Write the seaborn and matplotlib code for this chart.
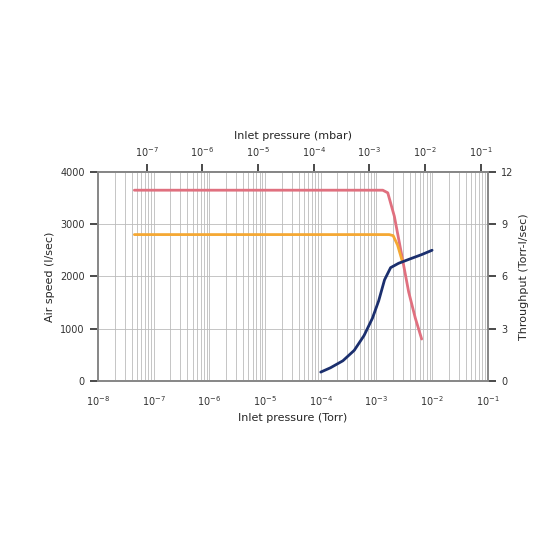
import numpy as np
import matplotlib
matplotlib.use("Agg")
import matplotlib.pyplot as plt
import seaborn as sns
from matplotlib.ticker import LogLocator, NullFormatter, FixedLocator, NullLocator

sns.set_theme(style="white")
plt.rcParams['font.family'] = ['DejaVu Sans']

pink_p = [4.5e-8, 1e-6, 1e-4, 1.3e-3, 1.6e-3, 2.1e-3, 2.8e-3, 3.8e-3, 5e-3, 6.5e-3]
pink_v = [3650, 3650, 3650, 3650, 3600, 3150, 2450, 1700, 1200, 800]
orange_p = [4.5e-8, 1e-6, 1e-4, 1.7e-3, 2.0e-3, 2.4e-3, 2.9e-3]
orange_v = [2800, 2800, 2800, 2800, 2780, 2600, 2300]
blue_p = [1e-4, 1.5e-4, 2.5e-4, 4e-4, 6e-4, 8.5e-4, 1.1e-3, 1.4e-3, 1.8e-3, 2.5e-3, 4e-3, 6.5e-3, 1e-2]
blue_t = [0.5, 0.75, 1.15, 1.75, 2.6, 3.6, 4.6, 5.8, 6.5, 6.75, 7.0, 7.25, 7.5]
mbar_ticks = [1e-7, 1e-6, 1e-5, 1e-4, 1e-3, 1e-2, 1e-1]

fig = plt.figure(figsize=(5.6, 5.6), dpi=100)
ax = fig.add_axes([0.175, 0.32, 0.696, 0.373])
sns.lineplot(x=pink_p, y=pink_v, ax=ax, color="#e0707f", lw=2, sort=False)
sns.lineplot(x=orange_p, y=orange_v, ax=ax, color="#f5a833", lw=2, sort=False)
ax.set_xscale("log")
ax.set_xlim(1e-8, 1e-1)
ax.set_ylim(0, 4000)
ax.set_yticks([0, 1000, 2000, 3000, 4000])
ax.xaxis.set_major_locator(LogLocator(base=10, numticks=20))
ax.xaxis.set_minor_locator(LogLocator(base=10, subs=np.arange(2, 10), numticks=100))
ax.xaxis.set_minor_formatter(NullFormatter())
ax.tick_params(axis="x", which="minor", length=0)
ax.grid(True, which="both", axis="x", color="#bbbbbb", lw=0.6)
ax.grid(True, which="major", axis="y", color="#bbbbbb", lw=0.6)
ax.tick_params(labelsize=7, colors="#333333")
ax.set_xlabel("Inlet pressure (Torr)", fontsize=8)
ax.set_ylabel("Air speed (l/sec)", fontsize=8)

ax2 = ax.twinx()
sns.lineplot(x=blue_p, y=blue_t, ax=ax2, color="#1b2f6e", lw=2, sort=False)
ax2.set_ylim(0, 12)
ax2.set_yticks([0, 3, 6, 9, 12])
ax2.tick_params(labelsize=7, colors="#333333")
ax2.set_ylabel("Throughput (Torr-l/sec)", fontsize=8)
ax2.grid(False)

sec = ax.secondary_xaxis("top", functions=(lambda t: t * 1.333, lambda m: m / 1.333))
sec.set_xscale("log")
sec.xaxis.set_major_locator(FixedLocator(mbar_ticks))
sec.xaxis.set_minor_locator(NullLocator())
sec.tick_params(labelsize=7, colors="#333333")
sec.set_xlabel("Inlet pressure (mbar)", fontsize=8)

for a in (ax, ax2):
    for s in a.spines.values():
        s.set_color("#888888")

fig.savefig("out.png", dpi=100, facecolor="white")
